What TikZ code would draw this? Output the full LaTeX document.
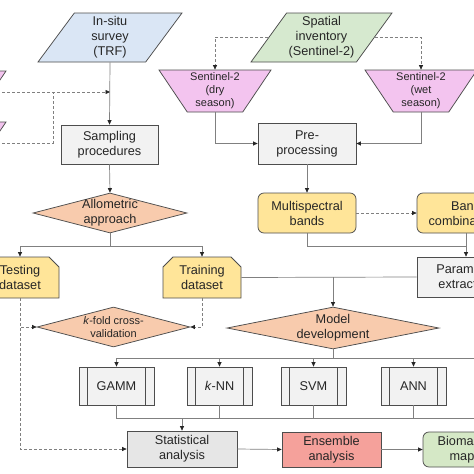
\documentclass[tikz,border=0pt]{standalone}
\usepackage{fontspec}
\setmainfont{Liberation Sans}
\usetikzlibrary{shapes.geometric,shapes.misc,arrows.meta}

\definecolor{bordc}{HTML}{4D4D4D}
\definecolor{linec}{HTML}{808080}
\definecolor{textc}{HTML}{262626}
\definecolor{bluec}{HTML}{DAE6F5}
\definecolor{greenc}{HTML}{D6E9CF}
\definecolor{pinkc}{HTML}{F3C4EF}
\definecolor{grayc}{HTML}{F2F2F2}
\definecolor{statc}{HTML}{E6E6E6}
\definecolor{orangec}{HTML}{F8CBAD}
\definecolor{yellowc}{HTML}{FFE599}
\definecolor{redc}{HTML}{F5A19B}
\definecolor{biomc}{HTML}{D5E8C6}

\newcommand{\fmain}{\fontsize{12.7}{15}\selectfont}
\newcommand{\fsmall}{\fontsize{11}{13}\selectfont}

\begin{document}
\begin{tikzpicture}[x=1pt,y=-1pt,
  base/.style={draw=bordc, line width=0.75pt, inner sep=0pt, align=center, text=textc, font=\fmain},
  proc/.style={base, rectangle, fill=grayc},
  term/.style={base, rectangle, rounded corners=6pt},
  data/.style={base, trapezium, inner sep=1pt, trapezium left angle=63, trapezium right angle=117,
    trapezium stretches=true},
  src/.style={base, trapezium, inner sep=1pt, trapezium left angle=117, trapezium right angle=117,
    trapezium stretches=true, fill=pinkc, minimum width=112pt, minimum height=42pt},
  deci/.style={base, diamond, inner sep=1pt, fill=orangec},
  dset/.style={base, chamfered rectangle, chamfered rectangle corners={north west,north east},
    chamfered rectangle xsep=5pt, chamfered rectangle ysep=5pt, fill=yellowc,
    minimum width=78pt, minimum height=41pt},
  algo/.style={proc, minimum height=38pt, path picture={
    \draw[draw=bordc, line width=0.75pt]
      ([xshift=8.5pt]path picture bounding box.north west) -- ([xshift=8.5pt]path picture bounding box.south west)
      ([xshift=-8.5pt]path picture bounding box.north east) -- ([xshift=-8.5pt]path picture bounding box.south east);}},
  lbl/.style={align=center, inner sep=0pt, text=textc, font=\fmain},
  slbl/.style={lbl, font=\fsmall},
  line/.style={draw=linec, line width=0.7pt},
  dsh/.style={line, dash pattern=on 3pt off 2pt},
  arr/.style={-{Triangle[length=4.5pt,width=4pt,color=black!85]}}]

\useasboundingbox (0,0) rectangle (474,474);
\clip (0,0) rectangle (474,474);
\fill[white] (0,0) rectangle (474,474);

% inputs
\node[data, fill=bluec, minimum width=144pt, minimum height=49pt] (insitu) at (110,37.5) {};
\node[lbl] (insituT) at (insitu) {In-situ\\survey\\(TRF)};
\node[data, fill=greenc, minimum width=141pt, minimum height=49pt] (spatial) at (321.5,37.5) {};
\node[lbl] (spatialT) at (spatial) {Spatial\\inventory\\(Sentinel-2)};
\node[src] (dry) at (215,91) {};
\node[slbl] (dryT) at (dry) {Sentinel-2\\(dry\\season)};
\node[src] (wet) at (421,91) {};
\node[slbl] (wetT) at (wet) {Sentinel-2\\(wet\\season)};
\node[src] (lt1) at (-50,92) {};
\node[src] (lt2) at (-50,143) {};

% field branch
\node[proc, minimum width=97pt, minimum height=39pt] (sampling) at (109.5,144.5) {Sampling\\procedures};
\node[deci, minimum width=154pt, minimum height=40pt] (allo) at (110,213) {};
\node[lbl] (alloT) at (allo) {Allometric\\approach};
\node[dset] (test) at (20,277.5) {Testing\\dataset};
\node[dset] (train) at (202,277.5) {Training\\dataset};
\node[deci, minimum width=153pt, minimum height=40pt] (kfold) at (113.5,327) {};
\node[slbl] (kfoldT) at (kfold) {\textit{k}-fold cross-\\validation};

% image branch
\node[proc, minimum width=98pt, minimum height=41pt] (pre) at (307,143.5) {Pre-\\processing};
\node[term, fill=yellowc, minimum width=98pt, minimum height=40pt] (multi) at (307,213) {Multispectral\\bands};
\node[term, fill=yellowc, minimum width=98pt, minimum height=40pt] (band) at (466,213) {Band\\combinations};
\node[proc, minimum width=98pt, minimum height=40pt] (param) at (466,277) {Parameter\\extraction};

% models
\node[deci, minimum width=212pt, minimum height=42pt] (model) at (333,328) {};
\node[lbl] (modelT) at (model) {Model\\development};
\node[algo, minimum width=75pt] (gamm) at (116.5,386) {GAMM};
\node[algo, minimum width=65pt] (knn) at (219.5,386) {\textit{k}-NN};
\node[algo, minimum width=65pt] (svm) at (313.5,386) {SVM};
\node[algo, minimum width=65pt] (ann) at (413.5,386) {ANN};

% outputs
\node[proc, fill=statc, minimum width=110pt, minimum height=36pt] (stat) at (182,449) {Statistical\\analysis};
\node[proc, fill=redc, minimum width=99pt, minimum height=35pt] (ens) at (331.5,449.5) {Ensemble\\analysis};
\node[term, fill=biomc, minimum width=78pt, minimum height=35pt] (bio) at (462,449.5) {Biomass\\map};

\coordinate (jn) at (53,92);
\coordinate (a1) at (110,246);
\coordinate (m1) at (466,246);
\coordinate (t1) at (333,277);
\coordinate (md) at (333,358);
\coordinate (mr) at (480,358);
\coordinate (s1) at (182,418);
\coordinate (sr) at (480,418);

% connectors
\draw[line,arr] (insitu.south) -- (sampling.north);
\draw[dsh,arr] (lt1.east) -- (lt1.east -| insitu.south);
\draw[dsh] (lt2.east) -| (jn);
\draw[line,arr] (sampling.south) -- (allo.north);
\draw[line] (allo.south) -- (a1);
\draw[line,arr] (a1) -| (test.north);
\draw[line,arr] (a1) -| (train.north);
\draw[dsh,arr] (test.south) |- (kfold.west);
\draw[dsh,arr] (train.south) |- (kfold.east);
\draw[dsh,arr] (test.south) |- (stat.west);

\draw[dsh,arr] (spatial.west) -| (dry.north);
\draw[dsh,arr] (spatial.east) -| (wet.north);
\draw[line,arr] (dry.south) |- (pre.west);
\draw[line,arr] (wet.south) |- (pre.east);
\draw[line,arr] (pre.south) -- (multi.north);
\draw[dsh,arr] (multi.east) -- (band.west);
\draw[line] (multi.south) |- (m1);
\draw[line,arr] (band.south) -- (param.north);
\draw[line] (train.east) -- (param.west);
\draw[line,arr] (t1) -- (model.north);

\draw[line] (model.south) -- (md) -- (mr);
\foreach \m in {gamm,knn,svm,ann} {
  \draw[line,arr] (md) -| (\m.north);
  \draw[line] (\m.south) |- (s1);
}
\draw[line] (ann.south) |- (sr);
\draw[line,arr] (s1) -- (stat.north);
\draw[line,arr] (stat.east) -- (ens.west);
\draw[line,arr] (ens.east) -- (bio.west);

\end{tikzpicture}
\end{document}
